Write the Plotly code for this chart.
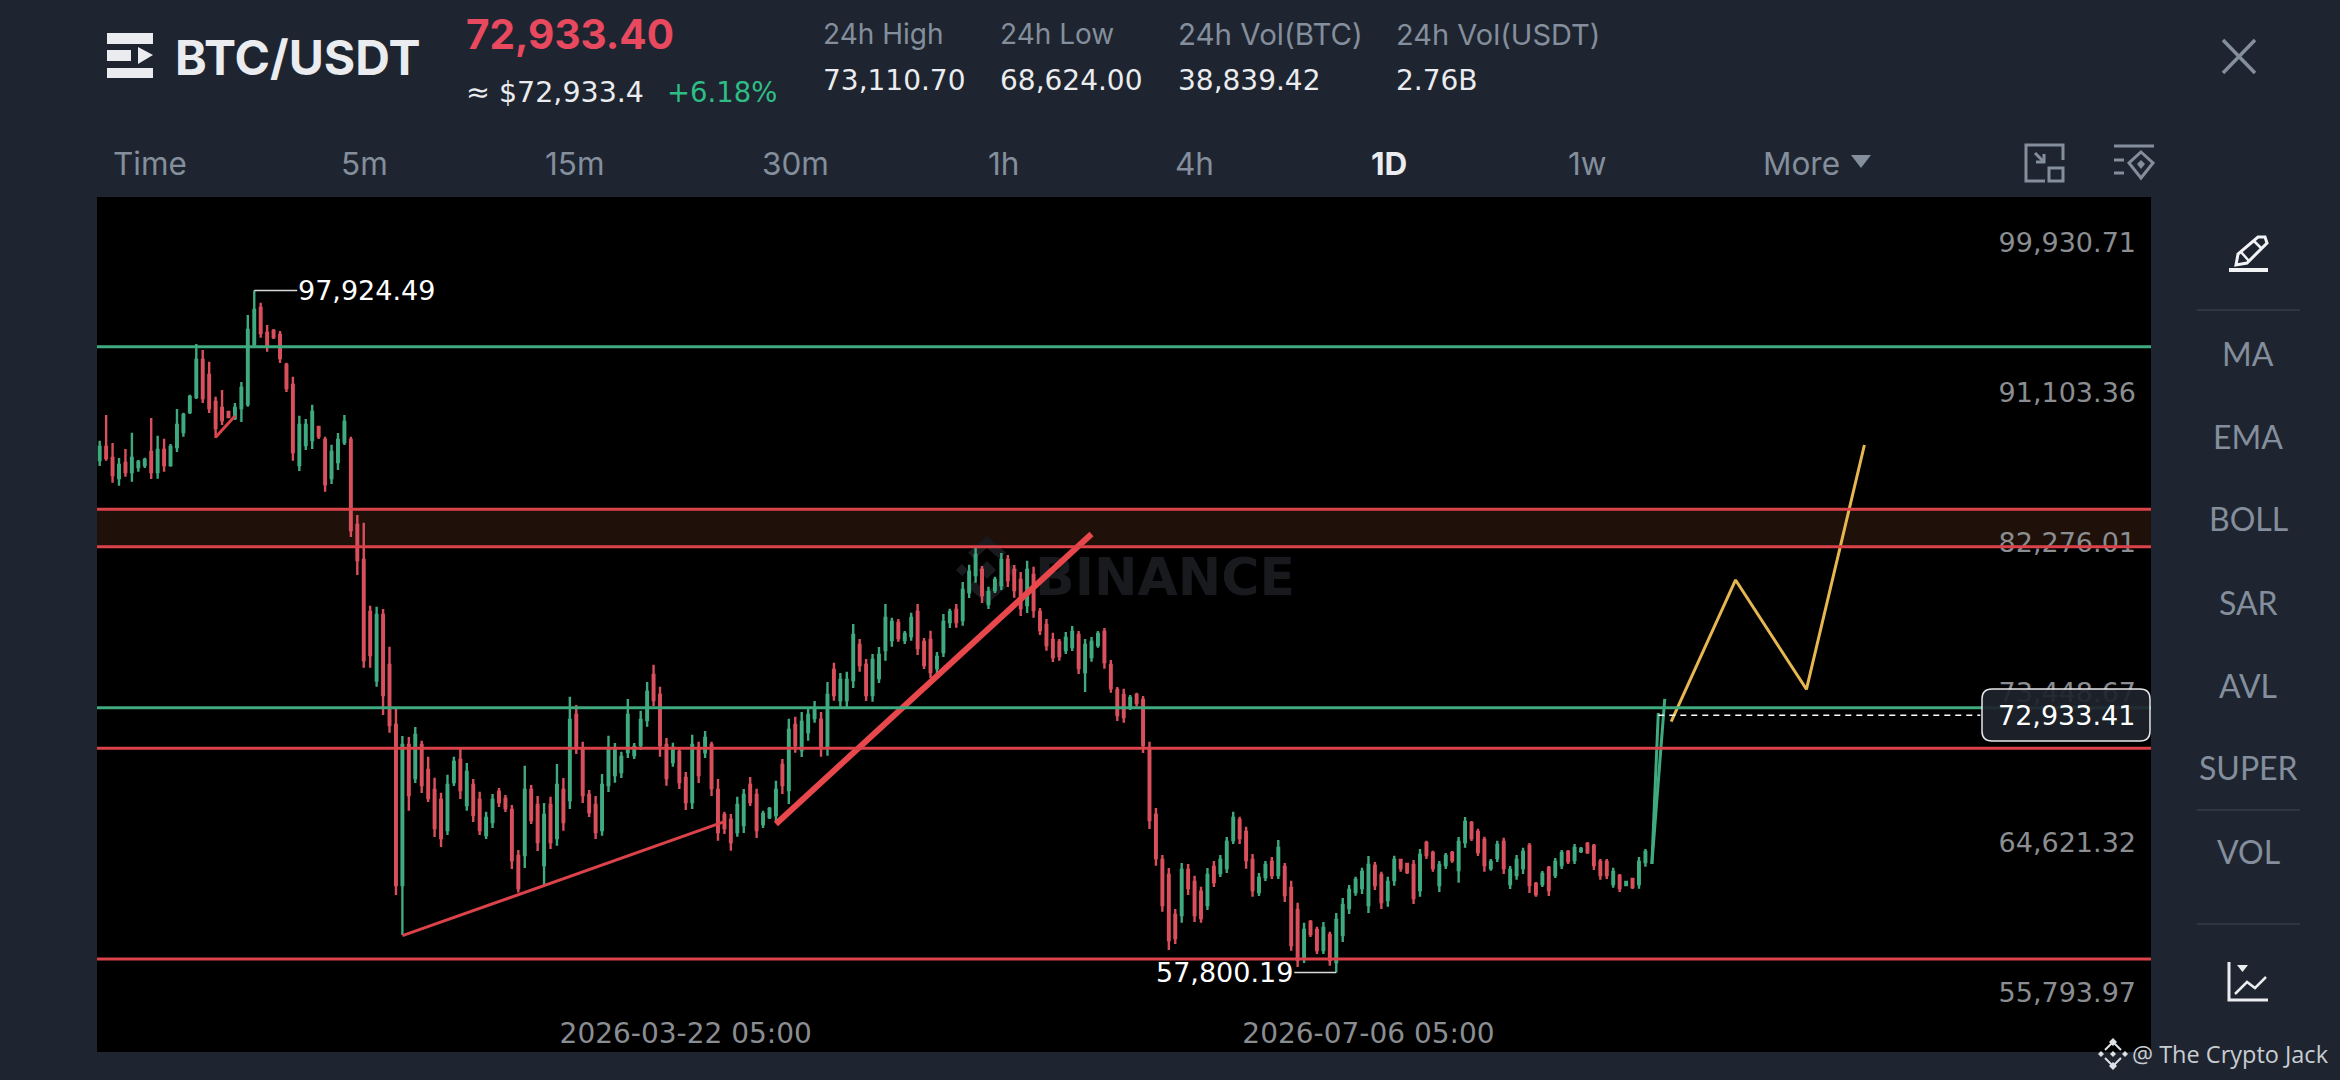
import pandas as pd
import plotly.graph_objects as go

# daily candles
dates = pd.date_range("2025-12-21", periods=241, freq="D")

highs = [
    89090,90603,88956,88073,88602,89561,87955,88090,90427,89385,
    89208,88897,90956,90739,91797,94782,94428,93740,91680,92075,
    90797,91309,92545,96488,97924.49,97212,95900,95665,95547,93681,
    92857,90562,90368,91210,89956,89326,88856,89544,90603,89326,
    84718,84265,79380,79322,79187,76968,73301,71713,71653,72243,
    71437,70495,69259,68375,69434,70495,71006,70124,69182,68434,
    67258,68300,68651,68240,67651,64999,69964,68829,68181,67769,
    68141,70065,69241,74025,73537,71377,68536,68181,69477,71730,
    71300,70789,73890,71300,73201,74890,75908,74614,71595,71318,
    71065,69594,71790,71377,72006,71377,69182,67258,67122,68141,
    68594,69300,68611,67317,67533,69082,70359,72731,72848,73125,
    73361,73772,73125,74890,76027,75420,75496,78304,77421,76244,
    76538,76950,79480,78674,78597,77892,78969,79480,77480,77909,
    76656,78892,79204,79480,80775,81793,82776,81717,80500,81088,
    82482,82365,81776,81364,82029,81676,79246,78597,77792,77421,
    77833,78186,77892,77421,77538,77892,78068,76185,74597,74496,
    74125,74260,74066,71377,67475,64709,63944,61531,64240,64179,
    63492,62843,63944,64356,64709,65770,67258,66963,66376,64768,
    63650,64356,64592,65592,64238,63198,61902,60726,60884,60490,
    60766,60195,61295,62178,62944,63432,63962,64650,64297,63725,
    63432,64668,64474,64256,64415,65062,65551,64962,64356,64827,
    64945,65770,66946,66711,66257,65787,64474,65551,65727,64062,
    64709,65139,65416,63120,63768,64062,64533,65003,65003,65356,
    65180,65474,65356,64474,64474,63962,63591,63179,63375,64592,
    65062,
]
lows = [
    87602,87914,86619,86443,86973,86678,87266,87484,86837,86855,
    87266,87561,88426,89326,90662,91545,91309,90720,89250,90015,
    90427,90309,90191,91092,94623,95153,94329,95076,93663,91957,
    87914,87308,88543,88602,89191,86089,86543,87367,88838,83424,
    81187,75732,75732,74614,72949,71906,62355,60001,67317,68947,
    68358,67829,65768,65180,65886,68770,68005,67317,66650,65886,
    65650,66298,67533,67240,63886,62495,63944,66533,64943,62944,
    65063,65257,66140,67417,70653,67769,66945,65650,65846,68417,
    68964,69241,70417,70359,70888,72260,73478,70495,68788,69906,
    68594,67357,67417,68947,70417,68181,65552,65945,64962,65787,
    66004,67592,65709,66298,66827,66669,68299,67710,70729,70476,
    71437,72496,70495,70553,73789,73437,73419,74537,75495,73772,
    73731,74831,76145,76967,77262,77127,77321,76479,75655,75125,
    75420,76362,78068,78086,78204,79834,80733,79540,79187,80128,
    80304,80481,79852,78774,78951,78674,77656,76730,76068,76145,
    76538,76715,75361,74302,76084,76909,75673,74260,72595,72495,
    73243,73437,70712,66239,64079,61373,59118,59472,60726,62355,
    60766,60726,61473,62826,63415,63650,65353,65353,63903,62254,
    62296,63179,63297,63297,61943,59078,58119,58353,59884,58883,
    58883,58195,57800.19,59590,61237,62314,62414,61295,62650,61531,
    61669,62903,63727,63591,61824,62254,64474,63727,62532,63885,
    64256,63079,65139,65535,64650,63727,63787,64297,63591,62709,
    63256,63591,62472,62254,62826,62296,63356,63885,64179,64179,
    64827,64768,63826,63256,63297,62785,62532,62903,62709,62727,
    64021,
]
opens = [
    87955,88720,88073,86895,87779,87249,87543,87660,88426,87249,
    88543,87660,88720,89603,90780,91662,93840,92957,91368,91015,
    90780,90427,91015,91251,94782,96900,95429,95547,95311,93546,
    92369,87660,88838,89132,89897,89132,86895,87838,89015,89132,
    84130,82070,79009,74968,78833,75890,72360,62944,71182,69241,
    71182,69711,68536,67946,66181,69006,70300,67651,68829,67946,
    65886,66651,68417,68006,67357,64650,64709,68536,67651,64121,
    67651,65709,68536,67946,72949,70888,68240,67651,66181,68829,
    69417,69594,70771,70594,71182,72654,75302,74125,71182,70182,
    70771,69241,67829,71006,70771,71182,68536,67063,66769,66063,
    66475,68829,68240,66533,66945,67063,70006,68536,72360,70888,
    71948,72772,72654,71006,75597,73831,73831,75008,77068,75890,
    74125,75126,76773,77362,78362,77362,77597,79009,77244,77362,
    75714,76656,78421,79127,78539,80186,81187,81481,79480,80304,
    80599,82070,81481,80893,79422,81187,79009,78244,77362,77244,
    76773,76950,77656,75479,76362,77068,77833,75890,74420,74125,
    73419,74125,73831,71006,67063,64415,63532,61178,61178,63826,
    63120,62532,61767,64003,63650,63944,65592,66769,66063,64415,
    62532,63415,64297,63532,64003,62767,61472,58648,60766,60296,
    59119,60001,58412,60001,61591,62532,62767,61767,64062,63532,
    62061,63238,64415,64179,64121,62650,65416,64827,62944,64121,
    64827,63826,65474,66592,66063,65592,63944,64533,65474,63003,
    63532,63944,65239,63003,63003,63944,63532,64121,64885,64415,
    64945,65356,65239,64297,64297,63003,63473,62944,63297,63003,
    64297,
]
closes = [
    88720,88073,87072,87660,87249,88073,87838,87955,87249,88543,
    87660,88720,90015,90603,91662,93840,91603,91015,89838,90309,
    90485,91015,92192,95605,96783,95429,94723,95194,93958,92192,
    88426,90015,90015,90780,89367,86543,88426,89132,90191,83835,
    82070,76185,76478,78833,74125,72360,62944,71182,68240,71771,
    68829,68063,66296,65709,68829,70182,68536,69594,67063,66181,
    66887,67946,67829,67475,64415,62767,68536,66769,65474,67063,
    65474,68829,66651,72654,71006,68240,67240,66063,68829,70888,
    70888,70476,72949,71065,72654,74302,73831,71182,69241,71006,
    69006,67829,71182,69417,71594,68652,66063,66298,65474,67651,
    68240,67829,66181,67122,67417,68536,68829,72066,71182,72537,
    72949,73361,71006,74125,74125,75008,75008,77656,75890,74125,
    76185,76479,78657,78421,77480,77715,78657,76891,75890,75479,
    76362,78421,79009,78421,80304,81364,82365,80010,80186,80893,
    82070,80893,80304,79246,81481,79127,77951,77068,76362,76421,
    77480,77833,75714,77068,77244,77715,76068,74538,72949,72831,
    73949,73654,71182,66769,64533,61767,59707,59825,63826,62767,
    61178,61002,63532,63120,64415,65474,66887,65709,64415,62650,
    63356,64121,63532,65121,62355,59413,58530,60296,60060,59119,
    60413,58530,60884,61767,62650,63238,63708,64121,62944,61943,
    63120,64415,63944,63708,62179,64709,64709,63944,64121,64650,
    64415,65474,66651,65709,64885,64121,64297,65297,63944,63826,
    64415,64885,62944,62414,63591,62650,64297,64827,64356,65121,
    65062,64885,64121,63532,63532,63708,62767,63120,62826,64297,
    64885,
]

price_ticks = [99930.71, 91103.36, 82276.01, 73448.67, 64621.32, 55793.97]
date_ticks = ["2026-03-22", "2026-07-06"]
date_labels = ["2026-03-22 05:00", "2026-07-06 05:00"]

green_levels = [94622, 73378]
red_levels = [85052, 82852, 70987, 58588]
last_price = 72933.41
high_date, high_price = "2026-01-14", 97924.49
low_date, low_price = "2026-07-01", 57800.19

# lines drawn by hand on the chart
small_x, small_y = ["2026-01-08", "2026-01-11"], [89290, 90544]
thin_x, thin_y = ["2026-02-06", "2026-03-28"], [59960, 66668]
thick_x, thick_y = ["2026-04-05", "2026-05-24"], [66534, 83600]
spike_a_x, spike_a_y = ["2026-08-19", "2026-08-20"], [64179, 73066]
spike_b_x, spike_b_y = ["2026-08-19", "2026-08-21"], [64179, 73890]
path_x = ["2026-08-22", "2026-09-01", "2026-09-12", "2026-09-21"]
path_y = [72554, 80893, 74460, 88838]
dash_x = ["2026-08-20", "2026-10-09"]

BG = "#1E2530"
GREY = "#848E9C"
GREEN = "#3FAA7F"
RED = "#D9505C"
LINE_RED = "#DB4249"
NUM_FONT = "DejaVu Sans"
MARK = "#181A1E"

# chart frame in page pixels
L, R, T, B = 97, 2151, 197, 1052


def fx(x):
    return (x - L) / (R - L)


def fy(y):
    return (B - y) / (B - T)


def p(x, y):
    return f"{fx(x):.5f},{fy(y):.5f}"


def poly(points, close=False):
    s = "M" + " L".join(p(x, y) for x, y in points)
    return s + (" Z" if close else "")


fig = go.Figure()
fig.add_trace(go.Candlestick(
    x=dates, open=opens, high=highs, low=lows, close=closes,
    increasing=dict(line=dict(color=GREEN, width=2.4), fillcolor=GREEN),
    decreasing=dict(line=dict(color=RED, width=2.4), fillcolor=RED),
    whiskerwidth=0,
))


def add_line(x, y, color, width, dash="solid"):
    fig.add_trace(go.Scatter(x=x, y=y, mode="lines", line=dict(color=color, width=width, dash=dash)))


add_line(spike_a_x, spike_a_y, GREEN, 3)
add_line(spike_b_x, spike_b_y, GREEN, 3)
add_line(small_x, small_y, LINE_RED, 3)
add_line(thin_x, thin_y, LINE_RED, 3)
add_line(thick_x, thick_y, "#E8474C", 6)
add_line(path_x, path_y, "#E6B650", 3)
add_line(dash_x, [last_price, last_price], "#FFFFFF", 1.5, "6px,5px")

shapes = []
# resistance band and watermark sit under the candles
shapes.append(dict(type="rect", xref="paper", x0=0, x1=1, y0=red_levels[1], y1=red_levels[0],
                   fillcolor="#1F1109", line_width=0, layer="below"))
shapes.append(dict(type="rect", xref="paper", yref="paper", x0=fx(1030), x1=fx(1300), y0=fy(600), y1=fy(546),
                   line_width=0, fillcolor="rgba(0,0,0,0)", layer="below",
                   label=dict(text="<b>BINANCE</b>", font=dict(family=NUM_FONT, size=52, color=MARK),
                              textposition="middle center")))
# watermark logo
for cx, cy, r in [(987, 570, 9), (962, 570, 6), (1012, 570, 6)]:
    shapes.append(dict(type="path", xref="paper", yref="paper", layer="below", line_width=0, fillcolor=MARK,
                       path=poly([(cx - r, cy), (cx, cy - r), (cx + r, cy), (cx, cy + r)], True)))
shapes.append(dict(type="path", xref="paper", yref="paper", layer="below", fillcolor="rgba(0,0,0,0)",
                   line=dict(color=MARK, width=9), path=poly([(971, 556), (987, 542), (1003, 556)])))
shapes.append(dict(type="path", xref="paper", yref="paper", layer="below", fillcolor="rgba(0,0,0,0)",
                   line=dict(color=MARK, width=9), path=poly([(971, 584), (987, 598), (1003, 584)])))
for lvl in green_levels:
    shapes.append(dict(type="line", xref="paper", x0=0, x1=1, y0=lvl, y1=lvl, line=dict(color=GREEN, width=3)))
for lvl in red_levels:
    shapes.append(dict(type="line", xref="paper", x0=0, x1=1, y0=lvl, y1=lvl, line=dict(color=LINE_RED, width=3)))

# current price box
box = (f"M{p(1992,689)} L{p(2140,689)} Q{p(2150,689)} {p(2150,699)} L{p(2150,731)} Q{p(2150,741)} {p(2140,741)} "
       f"L{p(1992,741)} Q{p(1982,741)} {p(1982,731)} L{p(1982,699)} Q{p(1982,689)} {p(1992,689)} Z")
shapes.append(dict(type="path", xref="paper", yref="paper", path=box, fillcolor="rgba(30,35,44,0.93)",
                   line=dict(color="#E6E8EA", width=1.5)))


def icon(points, color=GREY, width=3, close=False, fill=None):
    shapes.append(dict(type="path", xref="paper", yref="paper", path=poly(points, close),
                       line=dict(color=color, width=width), fillcolor=fill or "rgba(0,0,0,0)"))


def solid(points, color):
    shapes.append(dict(type="path", xref="paper", yref="paper", path=poly(points, True),
                       line_width=0, fillcolor=color))


# logo
WHITE = "#EAECEF"
solid([(107, 33), (153, 33), (153, 44), (107, 44)], WHITE)
solid([(107, 50), (131, 50), (131, 61), (107, 61)], WHITE)
solid([(138, 47), (153, 55), (138, 64)], WHITE)
solid([(107, 68), (153, 68), (153, 78), (107, 78)], WHITE)
# close cross
icon([(2223, 40), (2255, 73)], width=3.5)
icon([(2255, 40), (2223, 73)], width=3.5)
# More arrow
solid([(1851, 155), (1871, 155), (1861, 168)], GREY)
# layout icons
icon([(2045, 181), (2026, 181), (2026, 145), (2063, 145), (2063, 160)])
icon([(2035, 153), (2044, 162)])
icon([(2044, 154), (2044, 162), (2036, 162)])
icon([(2049, 168), (2063, 168), (2063, 181), (2049, 181)], close=True)
icon([(2114, 146), (2154, 146)])
icon([(2114, 160), (2124, 160)])
icon([(2114, 173), (2124, 173)])
icon([(2141, 152), (2153, 163), (2141, 178), (2129, 163)], close=True)
solid([(2141, 160), (2145, 164), (2141, 169), (2137, 164)], GREY)
# pencil
icon([(2236, 265), (2238, 254), (2258, 237), (2265, 237), (2267, 243), (2247, 263)], color="#F2F3F5", close=True)
icon([(2241, 252), (2249, 261)], color="#F2F3F5", width=2.5)
icon([(2254, 241), (2262, 249)], color="#F2F3F5", width=2.5)
icon([(2229, 270), (2268, 270)], color="#F2F3F5", width=4)
# side separators
for yy in [310, 810, 924]:
    icon([(2197, yy), (2300, yy)], color="#363D49", width=1.5)
# chart icon
icon([(2229, 962), (2229, 1000), (2268, 1000)], color=WHITE)
icon([(2235, 994), (2247, 982), (2255, 988), (2266, 977)], color=WHITE, width=2.5)
solid([(2237, 965), (2248, 965), (2242.5, 972)], WHITE)
# watermark logo bottom right
for cx, cy, r in [(2113, 1054, 3), (2113, 1042, 4), (2113, 1066, 4), (2101, 1054, 3), (2125, 1054, 3)]:
    solid([(cx - r, cy), (cx, cy - r), (cx + r, cy), (cx, cy + r)], "#DDE0E4")
icon([(2105, 1050), (2113, 1042), (2121, 1050)], color="#DDE0E4", width=2)
icon([(2105, 1058), (2113, 1066), (2121, 1058)], color="#DDE0E4", width=2)

header = [
    ("<b>BTC/USDT</b>", 173, 57, 48, WHITE, "Inter"),
    ("<b>72,933.40</b>", 464, 34, 40.5, "#E8495F", "Inter"),
    ("≈ $72,933.4", 464, 92, 28.5, WHITE, NUM_FONT),
    ("+6.18%", 665, 92, 27.5, "#2EBD85", NUM_FONT),
    ("24h High", 821, 34, 28, GREY, "Inter"),
    ("73,110.70", 821, 80, 28, WHITE, NUM_FONT),
    ("24h Low", 998, 34, 28, GREY, "Inter"),
    ("68,624.00", 998, 80, 28, WHITE, NUM_FONT),
    ("24h Vol(BTC)", 1176, 34, 29.5, GREY, "Inter"),
    ("38,839.42", 1176, 80, 28, WHITE, NUM_FONT),
    ("24h Vol(USDT)", 1394, 34, 29, GREY, "Inter"),
    ("2.76B", 1394, 80, 28, WHITE, NUM_FONT),
]
toolbar = [("Time", 150), ("5m", 364), ("15m", 575), ("30m", 795), ("1h", 1003), ("4h", 1194),
           ("<b>1D</b>", 1389), ("1w", 1587), ("More", 1801)]
side_labels = [("MA", 353), ("EMA", 436), ("BOLL", 518), ("SAR", 602), ("AVL", 685), ("SUPER", 768), ("VOL", 851)]

annotations = []


def text(s, x, y, size, color, anchor="left", family="Inter"):
    annotations.append(dict(text=s, xref="paper", yref="paper", x=fx(x), y=fy(y), xanchor=anchor, yanchor="middle",
                            showarrow=False, font=dict(size=size, color=color, family=family)))


for s, x, y, size, color, family in header:
    text(s, x, y, size, color, "left", family)
for s, x in toolbar:
    text(s, x, 163, 31.5, WHITE if "1D" in s else GREY, "center")
for s, y in side_labels:
    text(s, 2248, y, 32, GREY, "center", "Lato")
text("@ The Crypto Jack", 2130, 1054, 23.5, "#C9CDD2", "left", "Open Sans")

annotations.append(dict(text=f"{last_price:,.2f}", xref="paper", x=fx(2066), y=last_price, yanchor="middle",
                        xanchor="center", showarrow=False, font=dict(size=27, color="#FFFFFF", family=NUM_FONT)))
annotations.append(dict(text=f"{high_price:,.2f}", x=high_date, y=high_price, ax=43, ay=0, xanchor="left",
                        showarrow=True, arrowhead=0, arrowwidth=1.5, arrowcolor="#DADADA", standoff=0,
                        borderpad=0, font=dict(size=27, color="#FFFFFF", family=NUM_FONT)))
annotations.append(dict(text=f"{low_price:,.2f}", x=low_date, y=low_price, ax=-42, ay=0, xanchor="right",
                        showarrow=True, arrowhead=0, arrowwidth=1.5, arrowcolor="#DADADA", standoff=0,
                        borderpad=0, font=dict(size=27, color="#FFFFFF", family=NUM_FONT)))

fig.update_layout(
    width=2340, height=1080,
    margin=dict(l=L, r=2340 - R, t=T, b=1080 - B),
    paper_bgcolor=BG, plot_bgcolor="#000000",
    font=dict(family="Inter", color="#FFFFFF"),
    showlegend=False, hovermode=False, boxgap=0.66,
    shapes=shapes, annotations=annotations,
)
fig.update_xaxes(
    type="date", range=["2025-12-20 14:00", "2026-11-04 12:00"], rangeslider_visible=False,
    showgrid=False, zeroline=False, showline=False,
    tickmode="array", tickvals=date_ticks, ticktext=date_labels,
    ticklabelposition="inside", ticks="inside", ticklen=8, tickcolor="rgba(0,0,0,0)",
    ticklabelstandoff=-2,
    tickfont=dict(size=28, color="#8A8D91", family=NUM_FONT),
)
fig.update_yaxes(
    range=[53115, 103432], side="right",
    showgrid=False, zeroline=False, showline=False,
    tickmode="array", tickvals=price_ticks, tickformat=",.2f",
    ticklabelposition="inside top", ticks="inside", ticklen=16, tickcolor="rgba(0,0,0,0)",
    ticklabelstandoff=12, ticklabelshift=5,
    tickfont=dict(size=27, color="#8A8D91", family=NUM_FONT),
)

fig.write_html("out.html", config=dict(displayModeBar=False),
               post_script="document.body.style.margin='0';document.body.style.overflow='hidden';")
